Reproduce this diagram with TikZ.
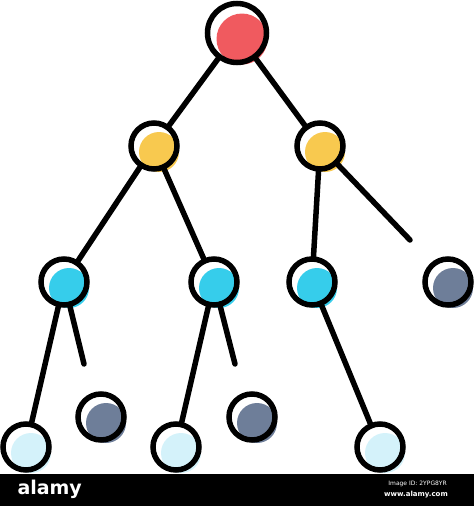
\documentclass[tikz,border=0pt]{standalone}
\usepackage{fontspec}
\usepackage{tikz}
\usetikzlibrary{calc}
\newfontfamily\barfont{DejaVu Sans}
\definecolor{rootred}{HTML}{F05A5F}
\definecolor{midyellow}{HTML}{F8C94F}
\definecolor{lowcyan}{HTML}{36CDEB}
\definecolor{leafblue}{HTML}{D4F2FA}
\definecolor{leafgray}{HTML}{6E7E99}
\tikzstyle{ring} = [circle, draw=black, line width=5.5pt, inner sep=0pt, outer sep=0pt]
\tikzstyle{edge} = [draw, black, line width=5.5pt, line cap=round]

\begin{document}
\begin{tikzpicture}[x=1pt,y=-1pt]

\useasboundingbox (0,0) rectangle (474,506);

%\draw[help lines,step=50] (0,0) grid (474,506);

% colour discs, shifted down right
\foreach \nx/\ny/\nr/\ncol in {237/33/25.5/rootred,
	154/146/20/midyellow, 320/146/20/midyellow,
	64/282/20/lowcyan, 214/282/20/lowcyan, 312/282/20/lowcyan,
	448/282/20/leafgray, 101/417/20/leafgray, 252/417/20/leafgray,
	26/447/20/leafblue, 176/447/20/leafblue, 380/447/20/leafblue} {
	\fill[\ncol] (\nx+5,\ny+6) circle (\nr);
}

% rings
\node[ring, minimum size=59pt] (root) at (237,33) {};
\node[ring, minimum size=46pt] (l2a) at (154,146) {};
\node[ring, minimum size=46pt] (l2b) at (320,146) {};
\node[ring, minimum size=46pt] (l3a) at (64,282) {};
\node[ring, minimum size=46pt] (l3b) at (214,282) {};
\node[ring, minimum size=46pt] (l3c) at (312,282) {};
\node[ring, minimum size=46pt] (l3d) at (448,282) {};
\node[ring, minimum size=46pt] (l4a) at (26,447) {};
\node[ring, minimum size=46pt] (l4b) at (101,417) {};
\node[ring, minimum size=46pt] (l4c) at (176,447) {};
\node[ring, minimum size=46pt] (l4d) at (252,417) {};
\node[ring, minimum size=46pt] (l4e) at (380,447) {};

% loose ends
\coordinate (endb) at (410,240);
\coordinate (enda) at (84,364);
\coordinate (endc) at (235,364);

% branches
\path[edge] (root) -- (l2a);
\path[edge] (root) -- (l2b);
\path[edge] (l2a) -- (l3a);
\path[edge] (l2a) -- (l3b);
\path[edge] (l2b) -- (l3c);
\path[edge] (l2b) -- (endb);
\path[edge] (l3a) -- (l4a);
\path[edge] (l3a) -- (enda);
\path[edge] (l3b) -- (l4c);
\path[edge] (l3b) -- (endc);
\path[edge] (l3c) -- (l4e);

% bottom bar
\fill[black] (0,474) rectangle (474,506);
\node[white, anchor=west, font=\barfont\bfseries\fontsize{19}{19}\selectfont] (logo) at (14,489) {alamy};
\node[white, anchor=east, font=\barfont\fontsize{6}{6}\selectfont, inner sep=0pt] (imgid) at (447,484) {Image ID: 2YPG8YR};
\node[white, anchor=east, font=\barfont\bfseries\fontsize{7}{7}\selectfont, inner sep=0pt] (site) at (448,495) {www.alamy.com};
\end{tikzpicture}
\end{document}
